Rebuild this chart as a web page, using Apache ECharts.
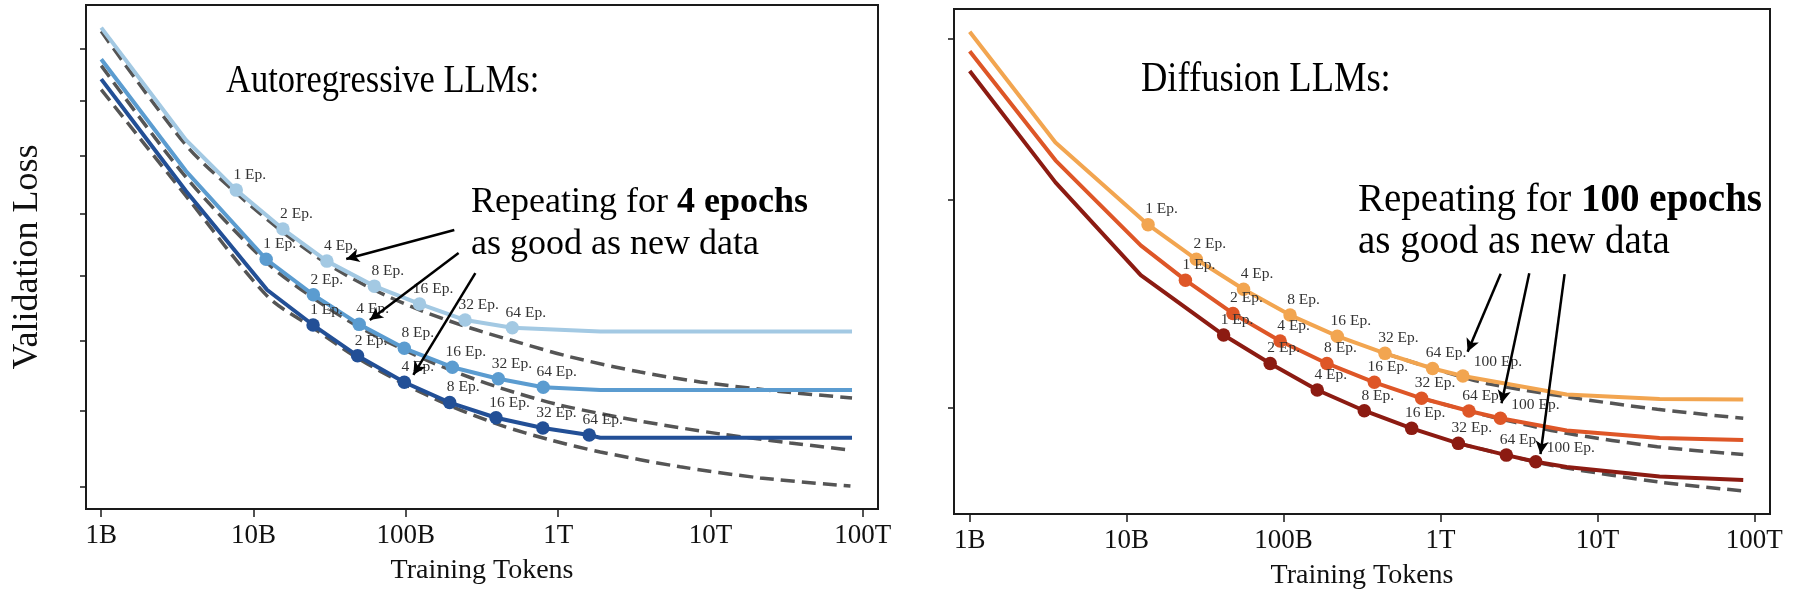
<!DOCTYPE html>
<html>
<head>
<meta charset="utf-8">
<script src="https://cdn.jsdelivr.net/npm/echarts@6/dist/echarts.min.js"></script>
<style>
  html, body { margin: 0; padding: 0; background: #fff; }
  #chart { width: 1793px; height: 598px; }
</style>
</head>
<body>
<div id="chart"></div>
<script>
var serif = '"Liberation Serif", "DejaVu Serif", serif';

// shared x axis ticks
var tickTokens = [1e9, 1e10, 1e11, 1e12, 1e13, 1e14];
var tickLabels = ['1B', '10B', '100B', '1T', '10T', '100T'];

// ---- Autoregressive panel ----
var arLossTicks = [2.6, 2.8, 3.0, 3.2, 3.4, 3.6, 3.8, 4.0];

var arTokens1 = [1.0e9, 3.6e9, 7.7e9, 15.6e9, 30.3e9, 62.1e9, 123e9, 245e9, 500e9, 1.89e12, 85e12];
var arLoss1   = [4.085, 3.657, 3.481, 3.350, 3.246, 3.167, 3.112, 3.063, 3.040, 3.029, 3.029];
var arEpochs1 = [null, null, 1, 2, 4, 8, 16, 32, 64, null, null];

var arTokens2 = [1.0e9, 3.6e9, 12.1e9, 24.7e9, 49.4e9, 97.7e9, 202e9, 405e9, 798e9, 1.89e12, 85e12];
var arLoss2   = [3.960, 3.547, 3.252, 3.140, 3.050, 2.979, 2.924, 2.891, 2.867, 2.859, 2.859];
var arEpochs2 = [null, null, 1, 2, 4, 8, 16, 32, 64, null, null];

var arTokens3 = [1.0e9, 3.6e9, 12.3e9, 24.6e9, 48.2e9, 97.7e9, 194e9, 391e9, 794e9, 1.60e12, 1.89e12, 85e12];
var arLoss3   = [3.883, 3.478, 3.155, 3.048, 2.957, 2.881, 2.824, 2.782, 2.754, 2.735, 2.728, 2.728];
var arEpochs3 = [null, null, null, 1, 2, 4, 8, 16, 32, 64, null, null];

// "new data" reference curves (dashed)
var arFreshTokens1 = [1.0e9, 3.6e9, 7.7e9, 15.6e9, 30.5e9, 62.1e9, 124e9, 265e9, 564e9, 1.20e12, 3.46e12, 8.57e12, 28.7e12, 85e12];
var arFreshLoss1   = [4.070, 3.639, 3.471, 3.340, 3.237, 3.155, 3.093, 3.039, 2.995, 2.954, 2.910, 2.882, 2.855, 2.837];
var arFreshTokens2 = [1.0e9, 3.6e9, 12.1e9, 24.7e9, 49.4e9, 97.7e9, 196e9, 417e9, 1.03e12, 3.46e12, 11.6e12, 33.4e12, 83e12];
var arFreshLoss2   = [3.935, 3.526, 3.243, 3.130, 3.042, 2.974, 2.916, 2.865, 2.817, 2.773, 2.738, 2.714, 2.695];
var arFreshTokens3 = [1.0e9, 3.6e9, 12.3e9, 24.7e9, 48e9, 97.7e9, 196e9, 417e9, 887e9, 1.89e12, 6.32e12, 21.2e12, 83e12];
var arFreshLoss3   = [3.843, 3.461, 3.136, 3.039, 2.951, 2.876, 2.815, 2.762, 2.722, 2.690, 2.651, 2.622, 2.601];

var arArrowFrom = [[208e9, 3.347], [222e9, 3.272], [286e9, 3.208]];
var arArrowTo   = [[40.6e9, 3.253], [58e9, 3.063], [112e9, 2.902]];

// ---- Diffusion panel ----
var dfLossTicks = [3, 4, 5];

var dfTokens1 = [1.0e9, 3.52e9, 13.7e9, 27.8e9, 55.6e9, 110e9, 220e9, 443e9, 891e9, 1.39e12, 6.37e12, 24.9e12, 85e12];
var dfLoss1   = [5.048, 4.331, 3.865, 3.684, 3.534, 3.410, 3.312, 3.234, 3.167, 3.134, 3.055, 3.036, 3.034];
var dfEpochs1 = [null, null, 1, 2, 4, 8, 16, 32, 64, 100, null, null, null];

var dfTokens2 = [1.0e9, 3.52e9, 12.3e9, 23.7e9, 47.6e9, 95.1e9, 189e9, 379e9, 758e9, 1.52e12, 2.41e12, 6.37e12, 24.9e12, 85e12];
var dfLoss2   = [4.914, 4.225, 3.756, 3.579, 3.418, 3.290, 3.189, 3.107, 3.039, 2.986, 2.956, 2.906, 2.876, 2.868];
var dfEpochs2 = [null, null, null, 1, 2, 4, 8, 16, 32, 64, 100, null, null, null];

var dfTokens3 = [1.0e9, 3.52e9, 12.3e9, 41.5e9, 82.2e9, 164e9, 327e9, 655e9, 1.30e12, 2.63e12, 4.05e12, 6.37e12, 24.9e12, 85e12];
var dfLoss3   = [4.781, 4.098, 3.604, 3.317, 3.189, 3.074, 2.987, 2.915, 2.855, 2.809, 2.783, 2.763, 2.727, 2.714];
var dfEpochs3 = [null, null, null, 1, 2, 4, 8, 16, 32, 64, 100, null, null, null];

var dfFreshTokens1 = [443e9, 891e9, 1.39e12, 2.06e12, 6.37e12, 24.1e12, 85e12];
var dfFreshLoss1   = [3.234, 3.167, 3.129, 3.099, 3.045, 2.993, 2.956];
var dfFreshTokens2 = [758e9, 1.52e12, 2.41e12, 3.71e12, 6.37e12, 24.1e12, 85e12];
var dfFreshLoss2   = [3.039, 2.986, 2.953, 2.926, 2.895, 2.842, 2.811];
var dfFreshTokens3 = [1.30e12, 2.63e12, 4.05e12, 6.37e12, 24.1e12, 85e12];
var dfFreshLoss3   = [2.855, 2.809, 2.782, 2.759, 2.707, 2.673];

var dfArrowFrom = [[2.42e12, 3.611], [3.68e12, 3.613], [6.18e12, 3.609]];
var dfArrowTo   = [[1.49e12, 3.241], [2.45e12, 3.018], [4.34e12, 2.813]];

var arColors = ['#a3c9e3', '#5b9cd0', '#224f96'];
var dfColors = ['#f2a550', '#de5627', '#8c1b12'];

function fmtTokens(v) {
  return tickLabels[Math.round(Math.log10(v / tickTokens[0]))];
}

function epochLine(idx, tokens, loss, epochs, color) {
  var data = tokens.map(function (t, i) {
    var ep = epochs[i];
    if (!ep) {
      return { value: [t, loss[i]], symbol: 'none' };
    }
    return {
      value: [t, loss[i]],
      symbol: 'circle',
      label: { show: true, formatter: ep + ' Ep.', offset: ep === 100 ? [35, 1] : [13.5, -0.5] }
    };
  });
  return {
    type: 'line',
    xAxisIndex: idx,
    yAxisIndex: idx,
    data: data,
    symbolSize: 13.5,
    showAllSymbol: true,
    smooth: false,
    z: 3,
    lineStyle: { color: color, width: 4 },
    itemStyle: { color: color },
    label: { show: false, position: 'top', distance: 0, fontFamily: serif, fontSize: 15.5, color: '#333' },
    emphasis: { disabled: true }
  };
}

function freshLine(idx, tokens, loss) {
  return {
    type: 'line',
    xAxisIndex: idx,
    yAxisIndex: idx,
    data: tokens.map(function (t, i) { return [t, loss[i]]; }),
    symbol: 'none',
    smooth: 0.3,
    z: 2,
    lineStyle: { color: '#555', width: 3.5, type: [14, 7] },
    emphasis: { disabled: true }
  };
}

function arrows(from, to) {
  return {
    silent: true,
    animation: false,
    symbol: ['none', 'arrow'],
    symbolSize: [10, 13],
    lineStyle: { color: '#000', width: 2.5, type: 'solid' },
    label: { show: false },
    emphasis: { disabled: true },
    data: from.map(function (f, i) { return [{ coord: f }, { coord: to[i] }]; })
  };
}

function xAxisFor(idx) {
  return {
    type: 'log',
    logBase: 10,
    gridIndex: idx,
    min: Math.pow(10, 8.9),
    max: Math.pow(10, 14.1),
    axisLine: { show: true, lineStyle: { color: '#1a1a1a', width: 2 } },
    axisTick: { show: true, customValues: tickTokens, length: 8, lineStyle: { color: '#1a1a1a', width: 1.5 } },
    axisLabel: { customValues: tickTokens, formatter: fmtTokens, fontFamily: serif, fontSize: 27, color: '#111', margin: 13 },
    splitLine: { show: false },
    minorTick: { show: false },
    name: 'Training Tokens',
    nameLocation: 'middle',
    nameGap: 48,
    nameTextStyle: { fontFamily: serif, fontSize: 28, color: '#111' }
  };
}

function yAxisFor(idx, min, max, ticks) {
  return {
    type: 'log',
    logBase: 10,
    gridIndex: idx,
    min: min,
    max: max,
    axisLine: { show: true, lineStyle: { color: '#1a1a1a', width: 2 } },
    axisTick: { show: true, customValues: ticks, length: 6, lineStyle: { color: '#1a1a1a', width: 1.5 } },
    axisLabel: { show: false },
    splitLine: { show: false },
    minorTick: { show: false }
  };
}

function annotation(x, y, size, bold) {
  var st = { fontFamily: serif, fontSize: size, lineHeight: 42, fill: '#000' };
  return {
    type: 'text', x: x, y: y,
    style: {
      text: '{n|Repeating for }{b|' + bold + '}\n{n|as good as new data}',
      verticalAlign: 'top',
      rich: { n: st, b: Object.assign({}, st, { fontWeight: 'bold' }) }
    }
  };
}

var yLeft = yAxisFor(0, 2.543, 4.177, arLossTicks);
yLeft.name = 'Validation Loss';
yLeft.nameLocation = 'middle';
yLeft.nameGap = 40;
yLeft.nameTextStyle = { fontFamily: serif, fontSize: 36, color: '#111' };

var ar1 = epochLine(0, arTokens1, arLoss1, arEpochs1, arColors[0]);
ar1.markLine = arrows(arArrowFrom, arArrowTo);
var df1 = epochLine(1, dfTokens1, dfLoss1, dfEpochs1, dfColors[0]);
df1.markLine = arrows(dfArrowFrom, dfArrowTo);

var option = {
  animation: false,
  backgroundColor: '#fff',
  grid: [
    { left: 86, top: 5, width: 792, height: 504, show: true, borderColor: '#1a1a1a', borderWidth: 2, backgroundColor: '#fff' },
    { left: 954, top: 9, width: 816, height: 505, show: true, borderColor: '#1a1a1a', borderWidth: 2, backgroundColor: '#fff' }
  ],
  xAxis: [xAxisFor(0), xAxisFor(1)],
  yAxis: [yLeft, yAxisFor(1, 2.589, 5.21, dfLossTicks)],
  graphic: [
    { type: 'text', x: 226, y: 82, scaleY: 1.14, style: { text: 'Autoregressive LLMs:', fontFamily: serif, fontSize: 34.5, fill: '#000', verticalAlign: 'middle' } },
    { type: 'text', x: 1141, y: 80, scaleY: 1.14, style: { text: 'Diffusion LLMs:', fontFamily: serif, fontSize: 36.5, fill: '#000', verticalAlign: 'middle' } },
    annotation(471, 181.5, 36, '4 epochs'),
    annotation(1358, 180, 39, '100 epochs')
  ],
  series: [
    freshLine(0, arFreshTokens1, arFreshLoss1),
    freshLine(0, arFreshTokens2, arFreshLoss2),
    freshLine(0, arFreshTokens3, arFreshLoss3),
    ar1,
    epochLine(0, arTokens2, arLoss2, arEpochs2, arColors[1]),
    epochLine(0, arTokens3, arLoss3, arEpochs3, arColors[2]),
    freshLine(1, dfFreshTokens1, dfFreshLoss1),
    freshLine(1, dfFreshTokens2, dfFreshLoss2),
    freshLine(1, dfFreshTokens3, dfFreshLoss3),
    df1,
    epochLine(1, dfTokens2, dfLoss2, dfEpochs2, dfColors[1]),
    epochLine(1, dfTokens3, dfLoss3, dfEpochs3, dfColors[2])
  ]
};

var myChart = echarts.init(document.getElementById('chart'));
myChart.setOption(option, true);
</script>
</body>
</html>
